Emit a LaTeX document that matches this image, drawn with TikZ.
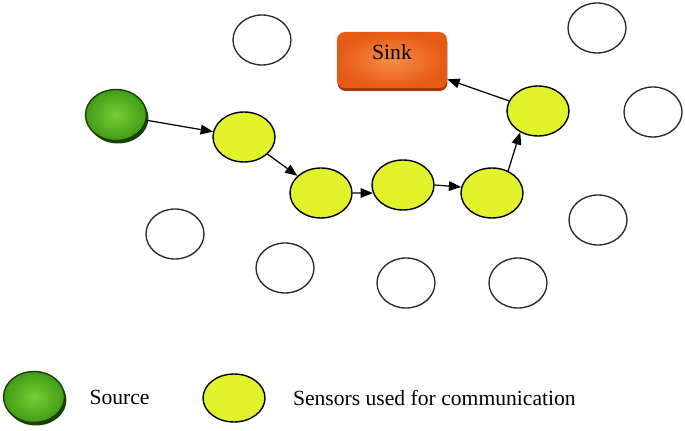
\documentclass[tikz,border=0pt]{standalone}
\usepackage{fontspec}
\setmainfont{Liberation Serif}
\usetikzlibrary{shapes.geometric,arrows.meta,positioning,shadows}
\definecolor{sensoryellow}{RGB}{226,242,42}
\definecolor{srcgreen}{RGB}{66,155,22}
\definecolor{srcgreenlight}{RGB}{118,208,52}
\definecolor{srcshadow}{RGB}{25,65,5}
\definecolor{sinkorange}{RGB}{230,90,20}
\definecolor{sinklight}{RGB}{247,140,72}
\definecolor{sinkshadow}{RGB}{170,55,8}
\tikzset{
  plain/.style={
    shape = ellipse,
    draw = black!85,
    line width = 0.75pt,
    inner sep = 0,
    minimum width = 1.16cm,
    minimum height = 1cm
  },
  sensor/.style={
    shape = ellipse,
    draw,
    line width = 0.8pt,
    fill = sensoryellow,
    inner sep = 0,
    minimum width = 1.24cm,
    minimum height = 1cm
  },
  srcnode/.style={
    shape = ellipse,
    draw = srcshadow,
    line width = 0.8pt,
    inner color = srcgreenlight,
    outer color = srcgreen,
    inner sep = 0,
    minimum width = 1.22cm,
    minimum height = 1.02cm,
    drop shadow = {shadow xshift=0.04cm, shadow yshift=-0.06cm, fill=srcshadow, opacity=1}
  },
  sinkbox/.style={
    rounded corners = 0.16cm,
    inner color = sinklight,
    outer color = sinkorange,
    minimum width = 2.2cm,
    minimum height = 1.12cm,
    text depth = 0.32cm,
    font = \fontsize{12.3}{14}\selectfont,
    drop shadow = {shadow xshift=0.01cm, shadow yshift=-0.06cm, fill=sinkshadow, opacity=1}
  },
  legtext/.style={
    inner sep = 0,
    font = \fontsize{12.3}{14}\selectfont
  },
  arr/.style={
    -{Triangle[length=7pt,width=5.5pt]},
    line width = 0.7pt
  }
}
\begin{document}
\begin{tikzpicture}[x=0.02cm, y=-0.02cm]
  \useasboundingbox (0,0) rectangle (685,431);
  \foreach \n/\x/\y in {1/262/40, 2/597/28, 3/653/112, 4/175/234, 5/285/268, 6/406/283, 7/518/283, 8/598/220}{
    \node[plain] (e\n) at (\x,\y) {};
  }
  \node[sinkbox] (sink) at (392,60) {Sink};
  \node[srcnode] (src) at (116,115) {};
  \node[sensor] (s1) at (244,137) {};
  \node[sensor] (s2) at (321,193) {};
  \node[sensor] (s3) at (403,185) {};
  \node[sensor] (s4) at (492,193) {};
  \node[sensor] (s5) at (538,111) {};
  \draw[arr] (src) -- (s1);
  \draw[arr] (s1) -- (s2);
  \draw[arr] (s2.east) -- (s3.195);
  \draw[arr] (s3.east) -- (s4.169);
  \draw[arr] (s4.54) -- (s5.230);
  \draw[arr] (s5) -- (sink);
  % legend
  \node[srcnode] (legsrc) at (34,397) {};
  \node[legtext, right=0.48cm of legsrc] (legsrctxt) {Source};
  \node[sensor, minimum height=0.96cm] (legsens) at (234,398) {};
  \node[legtext, right=0.54cm of legsens] (legsenstxt) {Sensors used for communication};
\end{tikzpicture}
\end{document}
